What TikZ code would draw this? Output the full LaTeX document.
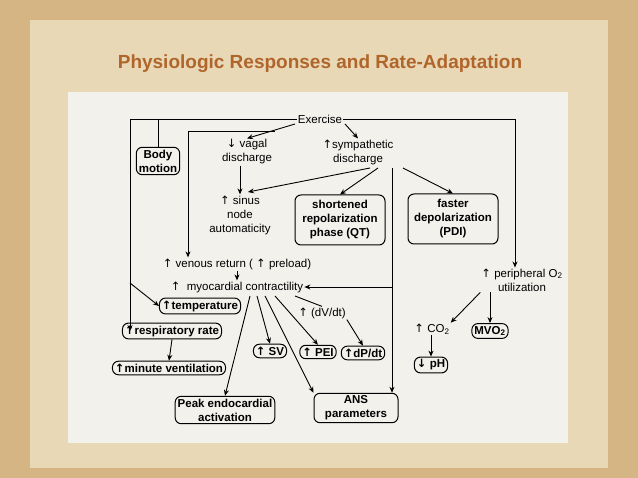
\documentclass[tikz,border=0pt]{standalone}
\usepackage{fontspec}
\setmainfont{Liberation Sans}
\newfontfamily\arrfont{DejaVu Sans}
\usetikzlibrary{arrows.meta,calc}
\newcommand{\up}{{\arrfont\char"2191}}
\newcommand{\dn}{{\arrfont\char"2193}}
\definecolor{bgtan}{HTML}{D6B584}
\definecolor{card}{HTML}{E9D8B6}
\definecolor{paper}{HTML}{F3F1EC}
\definecolor{ttl}{HTML}{B0652B}
\begin{document}
\begin{tikzpicture}[x=1pt,y=-1pt,
  txt/.style={font=\fontsize{11.5}{14}\selectfont,align=center,inner sep=1pt},
  bx/.style={txt,font=\fontsize{11.5}{14}\selectfont\bfseries,draw,rounded corners=6pt,line width=1pt,inner sep=2.5pt},
  ar/.style={-{Stealth[length=6pt,width=5pt]},line width=0.9pt},
  ln/.style={line width=0.9pt}]
\fill[bgtan] (0,0) rectangle (638,478);
\fill[card] (30,20) rectangle (608,468);
\fill[paper] (68,92) rectangle (568,443);
\node[font=\fontsize{19}{22}\selectfont\bfseries,text=ttl] (title) at (320,64) {Physiologic Responses and Rate-Adaptation};
\node[txt] (ex) at (320,119) {Exercise};
\node[bx] (body) at (158,161) {Body\\motion};
\node[txt] (vag) at (247,152) {\dn\ vagal\\discharge};
\node[txt] (sym) at (358,152) {\up sympathetic\\discharge};
\node[txt] (sin) at (240,215) {\up\ sinus\\node\\automaticity};
\node[bx,minimum width=90pt,minimum height=50pt] (sho) at (340,220) {shortened\\repolarization\\phase (QT)};
\node[bx,minimum width=90pt,minimum height=50pt] (fas) at (453,219) {faster\\depolarization\\(PDI)};
\node[txt] (per) at (522,280) {\up\ peripheral O\textsubscript{2}\\utilization};
\node[txt] (ven) at (237,264) {\up\ venous return ( \up\ preload)};
\node[txt] (myo) at (237,287) {\up\ \ myocardial contractility};
\node[bx] (tem) at (200,306) {\up temperature};
\node[bx] (res) at (172,331) {\up respiratory rate};
\node[bx] (min) at (169,368) {\up minute ventilation};
\node[bx] (sv) at (270,351) {\up\ SV};
\node[bx] (pei) at (318,352) {\up\ PEI};
\node[bx] (dp) at (363,353) {\up dP/dt};
\node[txt] (dv) at (322,313) {\up\ (dV/dt)};
\node[bx] (peak) at (225,410) {Peak endocardial\\activation};
\node[bx,minimum width=84pt] (ans) at (356,408) {ANS\\parameters};
\node[txt] (co) at (432,329) {\up\ CO\textsubscript{2}};
\node[bx] (mvo) at (490,331) {MVO\textsubscript{2}};
\node[bx] (ph) at (431,365) {\dn\ pH};
\coordinate (lx) at (130,119);
\coordinate (lb) at (130,283);
\draw[ln] (ex.west) -- (lx);
\draw[ar] (lx) -- (res.west -| lx);
\draw[ar] (lb) -- (tem.west);
\draw[ln] (body.north) -- (body.north |- ex);
\draw[ar] (295,124) -- (vag.north);
\draw[ar] (345,124) -- (sym.north);
\coordinate (vt) at (275,131);
\coordinate (vr) at (188,131);
\draw[ln] (vt) -- (vr);
\draw[ar] (vr) -- (ven.north -| vr);
\coordinate (rx) at (515,119);
\draw[ln] (ex.east) -- (rx);
\draw[ar] (rx) -- (per.north -| rx);
\draw[ar] (vag.south -| sin.north) -- (sin.north);
\draw[ar] (370,168) -- (248,192);
\draw[ar] (378,168) -- (sho.north);
\draw[ar] (403,168) -- (fas.north);
\coordinate (sx) at (392,168);
\draw[ar] (sx) -- (ans.north -| sx);
\draw[ar] (myo.east -| sx) -- (myo.east);
\draw[ar] (ven.south) -- (myo.north);
\draw[ar] (250,296) -- (peak.north);
\draw[ar] (257,296) -- (sv.north);
\draw[ar] (265,296) -- (ans.north west);
\draw[ar] (275,296) -- (pei.north);
\draw[ln] (295,296) -- (dv.north);
\draw[ar] (dv.south east) -- (dp.north);
\draw[ar] (res.south) -- (min.north);
\draw[ar] (per.south west) -- (co.north east);
\draw[ar] (mvo.north |- per.south) -- (mvo.north);
\draw[ar] (co.south -| ph.north) -- (ph.north);
\end{tikzpicture}
\end{document}
